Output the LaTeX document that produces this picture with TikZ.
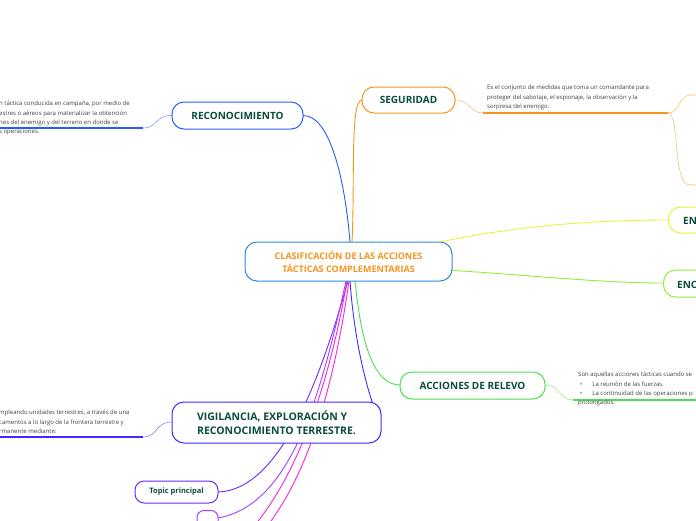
\documentclass[tikz,border=0pt]{standalone}
\usepackage{fontspec}
\setmainfont{Open Sans}
\begin{document}
\begin{tikzpicture}[x=1pt,y=-1pt,
 box/.style={draw=#1,line width=1pt,rounded corners=12pt,fill=white,text=tgreen,font=\bfseries\fontsize{10}{12}\selectfont,inner sep=0pt},
 lbl/.style={text=tgreen,font=\bfseries\fontsize{10}{12}\selectfont,inner sep=0pt,anchor=west},
 desc/.style={anchor=north west,font=\fontsize{6}{9.3}\selectfont,text=black!75,align=left,inner sep=0pt},
 link/.style={draw=#1,line width=0.9pt}]
\definecolor{tgreen}{HTML}{0B4D3C}
\definecolor{cblue}{HTML}{2F8AD6}
\definecolor{rblue}{HTML}{2B5BFF}
\definecolor{orng}{HTML}{F7941D}
\definecolor{yel}{HTML}{E8F53A}
\definecolor{lgr}{HTML}{8CF03A}
\definecolor{grn}{HTML}{4CE04C}
\definecolor{vblue}{HTML}{3D2BFF}
\definecolor{viol}{HTML}{6A2BFF}
\definecolor{purp}{HTML}{A040FF}
\definecolor{mag}{HTML}{FF1FE0}
\useasboundingbox (0,0) rectangle (696,520);
\begin{scope}
\clip (0,0) rectangle (696,520);
\coordinate (ct) at (350,242);
\coordinate (cb) at (350,281);
\draw[link=rblue] (ct) .. controls (345,180) and (330,115) .. (303,115.5);
\draw[link=orng] (352,242) .. controls (355,180) and (350,100) .. (362,100);
\draw[link=yel] (440,242) .. controls (520,225) and (600,220) .. (668,220);
\draw[link=lgr] (445,270) .. controls (530,275) and (600,283) .. (663,283);
\draw[link=grn] (355,281) .. controls (360,330) and (370,385) .. (400,385);
\draw[link=vblue] (350,281) .. controls (355,350) and (370,400) .. (379,420);
\draw[link=viol] (348,281) .. controls (320,380) and (280,490) .. (218,492);
\draw[link=purp] (346,281) .. controls (320,400) and (290,505) .. (218,518);
\draw[link=mag] (347,281) .. controls (330,380) and (300,470) .. (255,525);
\draw[link=mag] (349,281) .. controls (335,380) and (310,470) .. (268,525);
\draw[line width=0.6pt,rblue!60] (172,115.5) .. controls (155,115) and (158,128) .. (143,128);
\draw[line width=1.2pt,rblue] (0,128) -- (143,128);
\draw[line width=0.6pt,vblue!60] (172,422) .. controls (155,422) and (158,437) .. (143,437);
\draw[line width=1.2pt,vblue] (0,437) -- (143,437);
\draw[line width=0.6pt,orng!60] (455,100) .. controls (470,100) and (470,113) .. (483,113);
\draw[line width=1.2pt,orng] (483,113) -- (668,113);
\draw[line width=0.6pt,orng!60] (668,113) .. controls (680,113) and (678,96) .. (690,95) -- (696,95);
\draw[line width=0.6pt,orng!60] (668,113) .. controls (680,113) and (672,185) .. (690,185) -- (696,185);
\draw[line width=0.6pt,grn!60] (545,385) .. controls (560,385) and (560,400) .. (573,400);
\draw[line width=1.2pt,grn] (573,400) -- (696,400);
\node[box=cblue,minimum width=207pt,minimum height=39pt,text=orng,align=center,font=\bfseries\fontsize{9}{13}\selectfont] (c) at (348.5,261.5) {CLASIFICACIÓN DE LAS ACCIONES\\TÁCTICAS COMPLEMENTARIAS};
\node[box=rblue,minimum width=131pt,minimum height=27pt] (rec) at (237.5,115.5) {RECONOCIMIENTO};
\node[box=orng,minimum width=93pt,minimum height=26pt] (seg) at (408.5,100) {SEGURIDAD};
\node[box=yel,minimum width=60pt,minimum height=26pt,anchor=west] (en1) at (668,220) {};
\node[lbl] (en1t) at (683,221) {EN};
\node[box=lgr,minimum width=60pt,minimum height=27pt,anchor=west] (en2) at (663,283.5) {};
\node[lbl] (en2t) at (677,284.5) {ENC};
\node[box=grn,minimum width=145pt,minimum height=27pt] (rel) at (472.5,385.5) {ACCIONES DE RELEVO};
\node[box=vblue,minimum width=209pt,minimum height=41pt,align=left,font=\bfseries\fontsize{10.5}{14}\selectfont] (vig) at (276.5,422.5) {VIGILANCIA, EXPLORACIÓN Y\\RECONOCIMIENTO TERRESTRE.};
\node[box=viol,minimum width=83pt,minimum height=22pt,font=\bfseries\fontsize{7.5}{9}\selectfont,rounded corners=9pt] (tp) at (176.5,492) {Topic principal};
\node[box=purp,minimum width=21pt,minimum height=22pt,rounded corners=7pt,anchor=north] (sm) at (207.5,510) {};
\node[desc] (t1) at (-1,101) {n táctica conducida en campaña, por medio de\\estres o aéreos para materializar la obtención\\nes del enemigo y del terreno en donde se\\s operaciones.};
\node[desc] (t2) at (487,85) {Es el conjunto de medidas que toma un comandante para\\proteger del sabotaje, el espionaje, la observación y la\\sorpresa del enemigo.};
\node[desc] (t3) at (578,372) {Son aquellas acciones tácticas cuando se\\\hspace*{2pt}•\hspace{10pt}La reunión de las fuerzas.\\\hspace*{2pt}•\hspace{10pt}La continuidad de las operaciones p\\prolongados.};
\node[desc] (t4) at (-1,410) {mpleando unidades terrestres, a través de una\\camentos a lo largo de la frontera terrestre y\\rmanente mediante:};
\end{scope}
\end{tikzpicture}
\end{document}
